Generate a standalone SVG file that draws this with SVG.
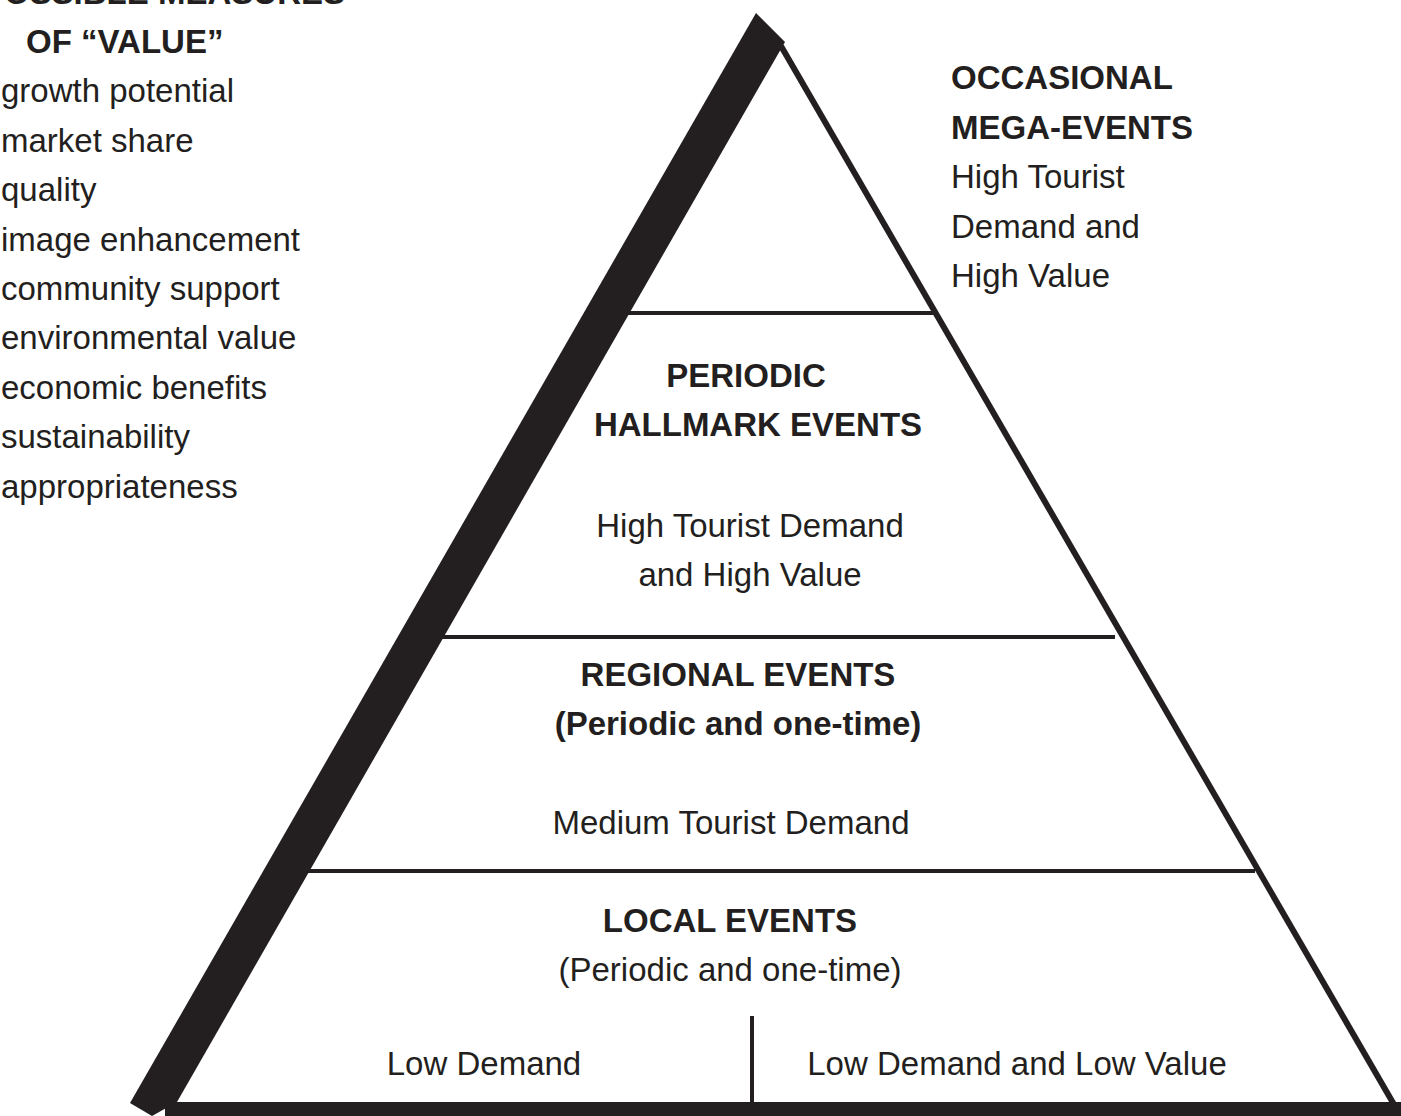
<svg xmlns="http://www.w3.org/2000/svg" width="1401" height="1116" viewBox="0 0 1401 1116">
<style>
text{font-family:"Liberation Sans",Arial,sans-serif;font-size:33px;fill:#231f20}
.b{font-weight:bold}
.c{text-anchor:middle}
.ln{stroke:#231f20;fill:none}
</style>
<rect width="1401" height="1116" fill="#fff"/>
<g id="pyramid">
<polygon points="756,13 785,42 177,1102 152,1116 130,1103" fill="#231f20"/>
<line class="ln" x1="781" y1="46" x2="1396" y2="1108" stroke-width="6"/>
<rect x="165" y="1102" width="1236" height="14" fill="#231f20"/>
</g>
<g id="connectors">
<line class="ln" x1="626" y1="313" x2="935" y2="313" stroke-width="4"/>
<line class="ln" x1="440" y1="637" x2="1115" y2="637" stroke-width="4"/>
<line class="ln" x1="305" y1="871" x2="1255" y2="871" stroke-width="4"/>
<line class="ln" x1="752" y1="1016" x2="752" y2="1102" stroke-width="4"/>
</g>
<g id="measures">
<text class="b" x="345" y="4" text-anchor="end">POSSIBLE MEASURES</text>
<text class="b" x="26" y="53">OF “VALUE”</text>
<text x="1" y="102">growth potential</text>
<text x="1" y="152">market share</text>
<text x="1" y="201">quality</text>
<text x="1" y="251">image enhancement</text>
<text x="1" y="300">community support</text>
<text x="1" y="349">environmental value</text>
<text x="1" y="399">economic benefits</text>
<text x="1" y="448">sustainability</text>
<text x="1" y="498">appropriateness</text>
</g>
<g id="mega">
<text class="b" x="951" y="89">OCCASIONAL</text>
<text class="b" x="951" y="139">MEGA-EVENTS</text>
<text x="951" y="188">High Tourist</text>
<text x="951" y="238">Demand and</text>
<text x="951" y="287">High Value</text>
</g>
<g id="hallmark">
<text class="b c" x="746" y="387">PERIODIC</text>
<text class="b c" x="758" y="436">HALLMARK EVENTS</text>
<text class="c" x="750" y="537">High Tourist Demand</text>
<text class="c" x="750" y="586">and High Value</text>
</g>
<g id="regional">
<text class="b c" x="738" y="686">REGIONAL EVENTS</text>
<text class="b c" x="738" y="735">(Periodic and one-time)</text>
<text class="c" x="731" y="834">Medium Tourist Demand</text>
</g>
<g id="local">
<text class="b c" x="730" y="932">LOCAL EVENTS</text>
<text class="c" x="730" y="981">(Periodic and one-time)</text>
<text class="c" x="484" y="1075">Low Demand</text>
<text class="c" x="1017" y="1075">Low Demand and Low Value</text>
</g>
</svg>
